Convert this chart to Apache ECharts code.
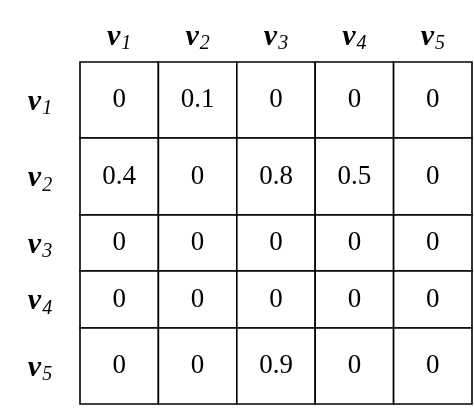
<!DOCTYPE html>
<html><head><meta charset="utf-8">
<script src="https://cdn.jsdelivr.net/npm/echarts@6/dist/echarts.min.js"></script>
<style>html,body{margin:0;padding:0;background:#fff}#c{width:474px;height:410px}</style>
</head><body><div id="c"></div>
<script>
const categories = ['1','2','3','4','5'];
const values = [
  [0, 0.1, 0, 0, 0],
  [0.4, 0, 0.8, 0.5, 0],
  [0, 0, 0, 0, 0],
  [0, 0, 0, 0, 0],
  [0, 0, 0.9, 0, 0]
];
const rowWeights = [76, 77, 56, 57, 76];

const starts = []; let acc = 0;
rowWeights.forEach(h => { starts.push(acc); acc += h; });
const data = [];
values.forEach((row, r) => row.forEach((v, c) => data.push([c, starts[r], starts[r] + rowWeights[r], v, r])));

const font = 'Liberation Serif';
const rich = {
  v: {fontFamily: font, fontWeight: 'bold', fontStyle: 'italic', fontSize: 30, color: '#000'},
  s: {fontFamily: font, fontStyle: 'italic', fontSize: 20, color: '#000', padding: [14, 0, 0, 1]}
};
const chart = echarts.init(document.getElementById('c'));
chart.setOption({
  animation: false,
  grid: {left: 80, top: 62, width: 392, height: 342},
  xAxis: {type: 'category', data: categories, position: 'top',
    axisLine: {show: false}, axisTick: {show: false},
    axisLabel: {margin: 8, formatter: v => '{v|v}{s|' + v + '}', rich: rich}},
  yAxis: {type: 'value', min: 0, max: acc, inverse: true, show: false},
  series: [{
    type: 'custom',
    data: data,
    renderItem: function (params, api) {
      const c = api.value(0);
      const p0 = api.coord([c, api.value(1)]);
      const p1 = api.coord([c, api.value(2)]);
      const w = api.size([1, 0])[0];
      const x = p0[0] - w / 2, y = p0[1], h = p1[1] - p0[1];
      const children = [
        {type: 'rect', shape: {x: x, y: y, width: w, height: h},
          style: {fill: '#fff', stroke: '#000', lineWidth: 1.6}},
        {type: 'text', style: {x: x + w / 2, y: y + h / 2, text: String(api.value(3)),
          align: 'center', verticalAlign: 'middle', fontFamily: font, fontSize: 27, fill: '#000'}}
      ];
      if (c === 0) {
        children.push({type: 'text', style: {x: 40, y: y + h / 2 + 2,
          text: '{v|v}{s|' + categories[api.value(4)] + '}', rich: rich,
          align: 'center', verticalAlign: 'middle'}});
      }
      return {type: 'group', children: children};
    }
  }]
});
</script></body></html>
